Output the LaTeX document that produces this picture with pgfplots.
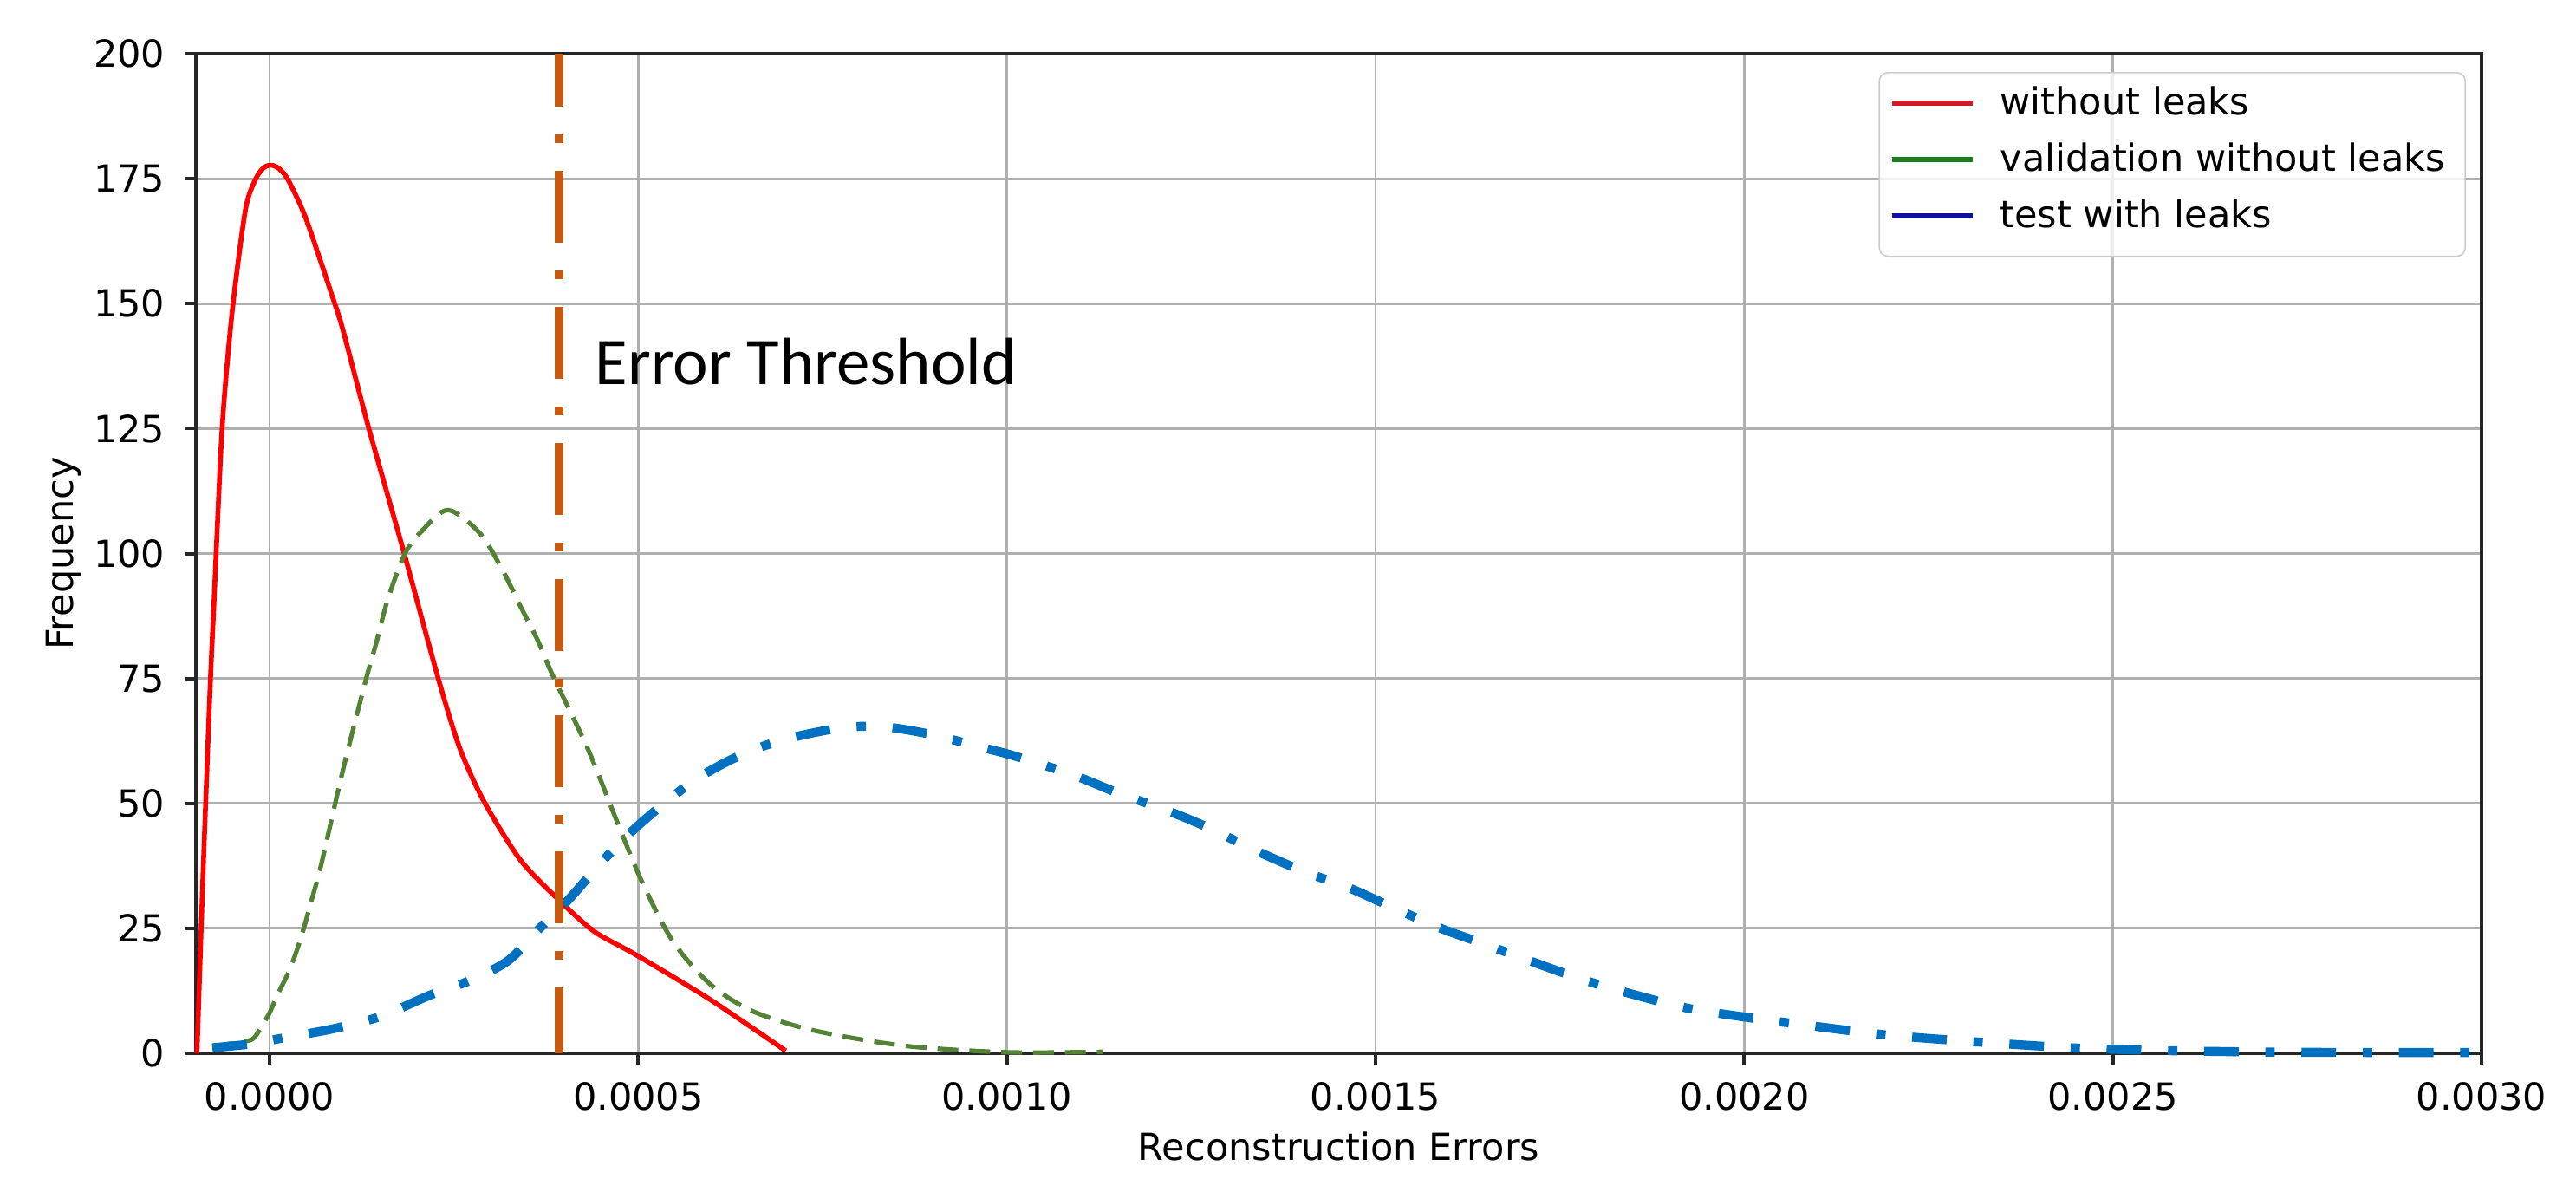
\documentclass[border=0pt]{standalone}
\usepackage{fontspec}
\setmainfont{DejaVu Sans}
\newfontfamily\carlito{Carlito}
\usepackage{pgfplots}
\pgfplotsset{compat=1.18}
\definecolor{gridgray}{HTML}{B0B0B0}
\definecolor{thr}{HTML}{C55A11}
\definecolor{valgreen}{HTML}{548235}
\definecolor{testblue}{HTML}{0070C0}
\definecolor{legred}{HTML}{D01C24}
\definecolor{leggreen}{HTML}{1A7F1A}
\definecolor{legblue}{HTML}{10109A}
\newcommand{\fs}{\fontsize{10.8}{13}\selectfont}
\begin{document}
\begin{tikzpicture}
\begin{axis}[
  scale only axis, width=659.25bp, height=288.25bp,
  xmin=-0.0001, xmax=0.003, ymin=0, ymax=200,
  clip=false,
  xtick={0,0.0005,0.001,0.0015,0.002,0.0025,0.003},
  xticklabels={0.0000,0.0005,0.0010,0.0015,0.0020,0.0025,0.0030},
  ytick={0,25,50,75,100,125,150,175,200},
  yticklabels={0,25,50,75,100,125,150,175,200},
  scaled x ticks=false, scaled y ticks=false,
  xtick pos=bottom, ytick pos=left,
  tick align=outside, major tick length=3.2bp,
  tick style={black!85, line width=1bp},
  axis line style={black!85, line width=1.1bp},
  grid=major, grid style={gridgray, line width=0.7bp},
  xticklabel style={font=\fs, anchor=north, inner sep=0pt, yshift=-5.05bp},
  yticklabel style={font=\fs, anchor=east, inner sep=0pt, xshift=-5.55bp},
  xlabel={Reconstruction Errors}, ylabel={Frequency},
  every axis x label/.style={at={(axis description cs:0.5,-0.10668)}, anchor=base, font=\fs},
  every axis y label/.style={at={(axis description cs:-0.05802,0.5)}, rotate=90, anchor=center, font=\fs},
  legend style={at={(1,1)}, anchor=north east, xshift=-4.5bp, yshift=-5.25bp,
    draw=black!20, fill=white, fill opacity=0.8, draw opacity=1, text opacity=1,
    rounded corners=2.5bp, inner xsep=2.85bp, inner ysep=2.1bp, row sep=0pt, font=\fs,
    nodes={inner xsep=3bp, inner ysep=2.625bp, text height=7.5bp, text depth=3.5bp}},
  legend cell align=left,
  legend image code/.code={\draw[#1, line width=1.5bp, line cap=butt, solid] (0bp,1.5bp) -- (23.25bp,1.5bp); \path[draw=none] (0bp,0bp) (28.25bp,0bp);},
]
% without leaks
\addplot[red, line width=1.4bp, smooth, tension=0.45, forget plot] coordinates {
(-0.0000985,0) (-0.00009,37) (-0.000081,72) (-0.0000758,89) (-0.0000644,125)
(-0.0000506,148.6) (-0.0000325,169) (-0.000018,175.2) (-0.000007,177.3) (0.000003,177.7)
(0.000013,177) (0.000025,174.8) (0.0000486,167.3) (0.0000845,151.7) (0.0000993,144.8)
(0.0001346,125) (0.0001825,100) (0.0002287,75) (0.000258,61) (0.000291,50.3)
(0.00034,38.7) (0.00039,31) (0.00044,24.4) (0.000497,19.7) (0.000597,10.8) (0.0007,0.5)
};
% validation without leaks
\addplot[valgreen, line width=1.3bp, dash pattern=on 6bp off 3.2bp, smooth, forget plot] coordinates {
(-0.0000776,1.4) (-0.00005,2) (-0.0000235,2.8) (-0.0000118,5.2) (0,8.1)
(0.0000106,11.7) (0.0000262,16.4) (0.0000419,22.8) (0.0000576,31) (0.0000694,37.4)
(0.0001,57) (0.000131,75) (0.0001444,82) (0.00016,90.7) (0.0001836,100)
(0.000207,104.6) (0.000242,108.7) (0.0002855,104) (0.0003168,96.4) (0.00034,89.5)
(0.000364,82.5) (0.000384,75.6) (0.000431,61.1) (0.000473,45.7) (0.000506,34)
(0.000547,22.4) (0.000597,13.9) (0.000654,8.5) (0.000737,4.6) (0.000861,1.5)
(0.001,0.2) (0.00113,0.3)
};
% test with leaks
\addplot[testblue, line width=2.6bp, dash pattern=on 10bp off 7.7bp on 2.7bp off 7.7bp, smooth, forget plot] coordinates {
(-0.0000776,1.1) (-0.0000235,1.9) (0.0000196,3.1) (0.0000862,4.9) (0.000151,7.4)
(0.000217,11.6) (0.000274,14.7) (0.000324,18.6) (0.000365,24.8) (0.000407,31)
(0.000448,37.9) (0.000489,44.1) (0.000531,49.5) (0.00058,55) (0.000638,59.6)
(0.000696,62.7) (0.00077,65) (0.000828,65.4) (0.000894,63.9) (0.000969,61.1)
(0.00101,59.5) (0.001088,55.8) (0.001152,52) (0.001215,48.7) (0.001271,45.3)
(0.001334,40.8) (0.001404,36.3) (0.001461,33.3) (0.001517,29.6) (0.001587,25.1)
(0.001643,22.1) (0.001713,18.3) (0.001784,14.6) (0.001854,11.6) (0.001924,9.0)
(0.002008,7.1) (0.002107,5.2) (0.002191,3.7) (0.002303,2.4) (0.002444,1.1)
(0.002584,0.5) (0.002753,0.2) (0.003,0.15)
};
% threshold
\addplot[thr, line width=2.5bp, dash pattern=on 20.75bp off 8bp on 2.5bp off 8bp, dash phase=5.4bp, forget plot] coordinates {(0.000393,200) (0.000393,0)};
\node[anchor=base west, inner sep=0pt, font=\carlito\fontsize{19.3}{23}\selectfont] at (axis cs:0.000441,133.9) {Error Threshold};
\addlegendimage{legred}
\addlegendentry{without leaks}
\addlegendimage{leggreen}
\addlegendentry{validation without leaks}
\addlegendimage{legblue}
\addlegendentry{test with leaks}
\end{axis}
\pgfresetboundingbox
\path[use as bounding box] ([shift={(-56.5bp,-40bp)}]current axis.south west) rectangle ([shift={(27.25bp,15.5bp)}]current axis.north east);
\end{tikzpicture}
\end{document}
